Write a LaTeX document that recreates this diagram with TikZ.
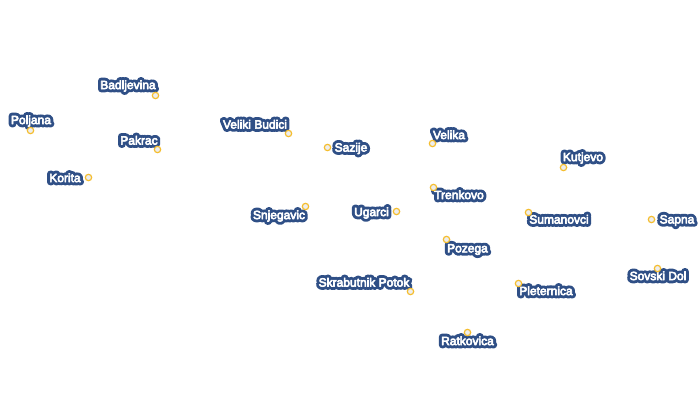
\documentclass[tikz,border=0pt]{standalone}
\usepackage{fontspec}
\setmainfont{Liberation Sans}
\newfontfamily\halofont[FakeBold=54]{Liberation Sans}
\newfontfamily\facefont[FakeBold=5]{Liberation Sans}
\definecolor{halo}{HTML}{2F4F86}
\definecolor{dotline}{HTML}{F5BE30}
\definecolor{dotfill}{HTML}{EEEEEE}
\newcommand{\halotxt}[1]{\special{pdf:code 1 j 1 J}\fontsize{9pt}{10pt}\selectfont\rlap{\halofont\color{halo}#1}{\facefont\color{white}#1}}
\tikzset{
  place/.style={circle,draw=dotline,fill=dotfill,line width=0.9pt,minimum size=4.8pt,inner sep=0pt},
  lab/.style={inner sep=0pt,anchor=center}
}
\begin{document}
\begin{tikzpicture}[x=0.75pt,y=-0.75pt]
\useasboundingbox[fill=white] (0,0) rectangle (700,410);
\node[lab] (l1) at (128,86) {\halotxt{Badljevina}};
\node[lab] (l2) at (31,121) {\halotxt{Poljana}};
\node[lab] (l3) at (139,140.3) {\halotxt{Pakrac}};
\node[lab] (l4) at (65,177.8) {\halotxt{Korita}};
\node[lab] (l5) at (255,124.3) {\halotxt{Veliki Budici}};
\node[lab] (l6) at (351,148.5) {\halotxt{Sazije}};
\node[lab] (l7) at (449,134.8) {\halotxt{Velika}};
\node[lab] (l8) at (583,158) {\halotxt{Kutjevo}};
\node[lab] (l9) at (459,194.8) {\halotxt{Trenkovo}};
\node[lab] (l10) at (279,216) {\halotxt{Snjegavic}};
\node[lab] (l11) at (371.5,213) {\halotxt{Ugarci}};
\node[lab] (l12) at (559,219.3) {\halotxt{Sumanovci}};
\node[lab] (l13) at (677,220.5) {\halotxt{Sapna}};
\node[lab] (l14) at (467.5,249.5) {\halotxt{Pozega}};
\node[lab] (l15) at (658,275.8) {\halotxt{Sovski Dol}};
\node[lab] (l16) at (364,282.3) {\halotxt{Skrabutnik Potok}};
\node[lab] (l17) at (546,290.8) {\halotxt{Pleternica}};
\node[lab] (l18) at (467.5,340.8) {\halotxt{Ratkovica}};
\node[place] (d1) at (155.5,95.5) {};
\node[place] (d2) at (30.5,130.5) {};
\node[place] (d3) at (157.5,149.5) {};
\node[place] (d4) at (88.5,177.5) {};
\node[place] (d5) at (288.5,133.5) {};
\node[place] (d6) at (327.5,147.5) {};
\node[place] (d7) at (432.5,143.5) {};
\node[place] (d8) at (563.5,167.5) {};
\node[place] (d9) at (433.5,187.5) {};
\node[place] (d10) at (305.5,206.5) {};
\node[place] (d11) at (396.5,211.5) {};
\node[place] (d12) at (528.5,212.5) {};
\node[place] (d13) at (651.5,219.5) {};
\node[place] (d14) at (446.5,239.5) {};
\node[place] (d15) at (657.5,268.5) {};
\node[place] (d16) at (410.5,291.5) {};
\node[place] (d17) at (518.5,283.5) {};
\node[place] (d18) at (467.5,332.5) {};
\end{tikzpicture}
\end{document}
